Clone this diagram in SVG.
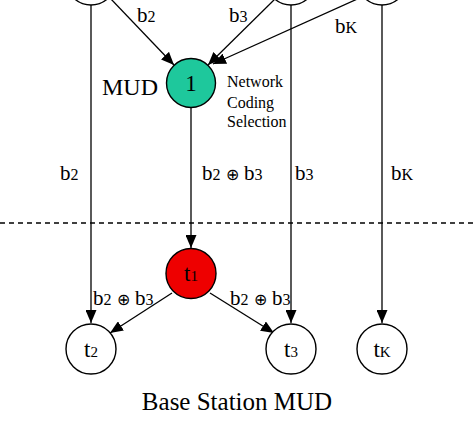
<svg xmlns="http://www.w3.org/2000/svg" width="474" height="432" viewBox="0 0 474 432">
<defs>
<marker id="ah" viewBox="0 0 10 10" refX="10" refY="5" markerWidth="13" markerHeight="11" markerUnits="userSpaceOnUse" orient="auto" preserveAspectRatio="none">
<path d="M0,0 L10,5 L0,10 Z" fill="#000"/>
</marker>
<style>
.n{fill:#fff;stroke:#000;stroke-width:1.4}
.e{stroke:#000;stroke-width:1.3;fill:none}
.a{stroke:#000;stroke-width:1.3;fill:none;marker-end:url(#ah)}
text{font-family:"Liberation Serif","Times New Roman",serif;fill:#000}
.l{font-size:21px}
.s{font-size:16px}
.t{font-size:23px;text-anchor:middle}
</style>
</defs>
<rect width="474" height="432" fill="#fff"/>
<g id="connectors">
<line class="e" x1="0" y1="223" x2="474" y2="223" stroke-dasharray="5,4"/>
<line class="a" x1="110" y1="-2" x2="174" y2="65"/>
<line class="a" x1="276" y1="-2" x2="208" y2="65"/>
<line class="a" x1="364" y1="-4" x2="213" y2="64"/>
<line class="a" x1="91" y1="5" x2="91" y2="323"/>
<line class="a" x1="291" y1="5" x2="291" y2="323"/>
<line class="a" x1="382" y1="5" x2="382" y2="323"/>
<line class="a" x1="191" y1="108" x2="191" y2="248"/>
<line class="a" x1="172" y1="293" x2="110" y2="333"/>
<line class="a" x1="210" y1="293" x2="274" y2="333"/>
</g>
<g id="src1"><circle class="n" cx="91" cy="-20" r="25"/></g>
<g id="src2"><circle class="n" cx="291" cy="-20" r="25"/></g>
<g id="srcK"><circle class="n" cx="382" cy="-20" r="25"/></g>
<g id="mud">
<circle cx="191" cy="83" r="24.5" fill="#1ec89c" stroke="#000" stroke-width="1.4"/>
<text class="t" x="191" y="91">1</text>
</g>
<g id="t1">
<circle cx="191" cy="273.5" r="25" fill="#ee0000" stroke="#000" stroke-width="1.4"/>
<text class="t" x="191" y="281">t<tspan font-size="15px">1</tspan></text>
</g>
<g id="t2">
<circle class="n" cx="91" cy="349" r="25"/>
<text class="t" x="91" y="357">t<tspan font-size="15px">2</tspan></text>
</g>
<g id="t3">
<circle class="n" cx="291" cy="349" r="25"/>
<text class="t" x="291" y="357">t<tspan font-size="15px">3</tspan></text>
</g>
<g id="tK">
<circle class="n" cx="382" cy="349" r="25"/>
<text class="t" x="382" y="357">t<tspan font-size="15px">K</tspan></text>
</g>
<g id="labels">
<text class="l" x="137" y="22">b<tspan class="s">2</tspan></text>
<text class="l" x="229" y="22">b<tspan class="s">3</tspan></text>
<text class="l" x="335" y="33">b<tspan class="s">K</tspan></text>
<text x="102" y="95" font-size="24px">MUD</text>
<text x="227" y="87" font-size="16px">Network</text>
<text x="227" y="108" font-size="16px">Coding</text>
<text x="227" y="127" font-size="16px">Selection</text>
<text class="l" x="60" y="180">b<tspan class="s">2</tspan></text>
<text class="l" x="202" y="180">b<tspan class="s">2</tspan> <tspan class="s">⊕</tspan> b<tspan class="s">3</tspan></text>
<text class="l" x="295" y="180">b<tspan class="s">3</tspan></text>
<text class="l" x="391" y="180">b<tspan class="s">K</tspan></text>
<text class="l" x="93" y="305">b<tspan class="s">2</tspan> <tspan class="s">⊕</tspan> b<tspan class="s">3</tspan></text>
<text class="l" x="230" y="305">b<tspan class="s">2</tspan> <tspan class="s">⊕</tspan> b<tspan class="s">3</tspan></text>
<text x="237" y="410" font-size="25px" text-anchor="middle">Base Station MUD</text>
</g>
</svg>
